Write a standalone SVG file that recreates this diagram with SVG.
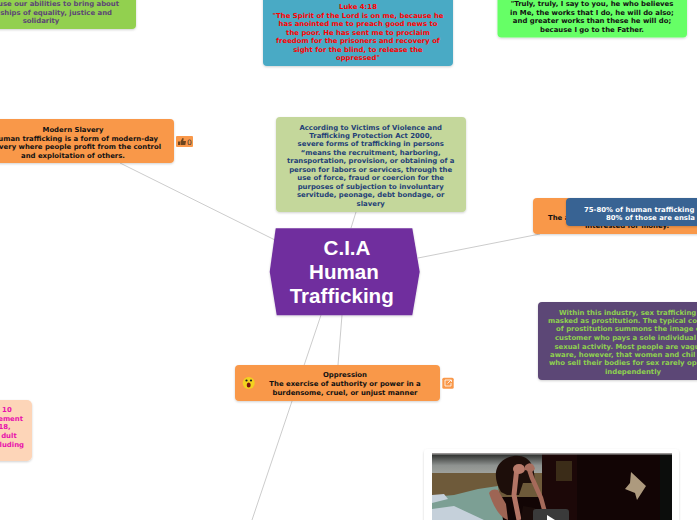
<svg xmlns="http://www.w3.org/2000/svg" width="697" height="520" viewBox="0 0 697 520">
<style>
text{font-family:"DejaVu Sans",Verdana,sans-serif;font-weight:700;font-size:6.9px;text-anchor:middle}
.s{text-anchor:start}.e{text-anchor:end}
.card{filter:url(#sh)}
.main{font-family:"Liberation Sans",Arial,sans-serif;font-size:20.6px;fill:#fff}
#connectors line{stroke:#ccc;stroke-width:1}
</style>
<defs>
<filter id="sh" x="-10%" y="-10%" width="120%" height="125%"><feDropShadow dx="0" dy="1" stdDeviation="1.2" flood-color="#000" flood-opacity=".18"/></filter>
<linearGradient id="wall" x1="0" y1="0" x2="0" y2="1"><stop offset="0" stop-color="#2a2c2a"/><stop offset=".6" stop-color="#8e9290"/><stop offset="1" stop-color="#9ea19c"/></linearGradient>
</defs>
<rect width="697" height="520" fill="#fff"/>
<g id="connectors">
<line x1="120" y1="163" x2="275" y2="240"/>
<line x1="356" y1="212" x2="351" y2="228"/>
<line x1="418" y1="258" x2="540" y2="234"/>
<line x1="342" y1="315" x2="338" y2="365"/>
<line x1="321" y1="315" x2="252" y2="520"/>
</g>
<g id="node-solidarity">
<rect class="card" x="-55" y="-40" width="191" height="69" rx="4" fill="#92d050"/>
<g fill="#5c4676">
<text class="e" x="119" y="6">use our abilities to bring about</text>
<text class="e" x="112" y="14.500">ships of equality, justice and</text>
<text x="41" y="23">solidarity</text>
</g>
</g>
<g id="node-luke">
<rect class="card" x="263" y="-40" width="190" height="106" rx="4" fill="#4aaac5"/>
<g fill="#f00">
<text x="358" y="9.300">Luke 4:18</text>
<text x="358" y="17.700">"The Spirit of the Lord is on me, because he</text>
<text x="358" y="26.300">has anointed me to preach good news to</text>
<text x="358" y="34.700">the poor. He has sent me to proclaim</text>
<text x="358" y="43.300">freedom for the prisoners and recovery of</text>
<text x="358" y="51.700">sight for the blind, to release the</text>
<text x="358" y="60.300">oppressed"</text>
</g>
</g>
<g id="node-truly">
<rect class="card" x="497.500" y="-40" width="189.500" height="77.500" rx="4" fill="#66ff66"/>
<g fill="#111">
<text x="592" y="6.300">"Truly, truly, I say to you, he who believes</text>
<text x="592" y="14.700">in Me, the works that I do, he will do also;</text>
<text x="592" y="23.300">and greater works than these he will do;</text>
<text x="592" y="31.700">because I go to the Father.</text>
</g>
</g>
<g id="node-modern-slavery">
<rect class="card" x="-28" y="119" width="202" height="44" rx="4" fill="#f9984a"/>
<g fill="#111">
<text x="73" y="132.300">Modern Slavery</text>
<text class="e" x="158" y="140.700">uman trafficking is a form of modern-day</text>
<text class="e" x="161" y="149.300">very where people profit from the control</text>
<text x="73" y="157.700">and exploitation of others.</text>
</g>
<g id="thumb-icon">
<rect x="176" y="136" width="17" height="11" rx="1" fill="#f9984a"/>
<path d="M178 141.500h2v3.500h-2zM180.500 141.500l2-3.500 1.300.5-.6 2.500h2.800l-.7 4h-4.800z" fill="#6b4520"/>
<text x="189.300" y="144.800" style="font-weight:400;font-size:7.500px;fill:#333">0</text>
</g>
</g>
<g id="node-act">
<rect class="card" x="276" y="117" width="190" height="95" rx="4" fill="#c4d79b"/>
<g fill="#1f3f77">
<text x="370.700" y="129.700">According to Victims of Violence and</text>
<text x="370.700" y="137.700">Trafficking Protection Act 2000,</text>
<text x="370.700" y="146.300">severe forms of trafficking in persons</text>
<text x="370.700" y="154.700">“means the recruitment, harboring,</text>
<text x="370.700" y="163.300">transportation, provision, or obtaining of a</text>
<text x="370.700" y="171.700">person for labors or services, through the</text>
<text x="370.700" y="180.300">use of force, fraud or coercion for the</text>
<text x="370.700" y="188.700">purposes of subjection to involuntary</text>
<text x="370.700" y="197.300">servitude, peonage, debt bondage, or</text>
<text x="370.700" y="205.700">slavery</text>
</g>
</g>
<g id="node-money">
<rect class="card" x="533" y="198" width="190" height="36" rx="4" fill="#f9984a"/>
<g fill="#111">
<text class="s" x="548" y="219.500">The a</text>
<text x="627" y="228">interested for money.</text>
</g>
</g>
<g id="node-percent">
<rect class="card" x="566" y="198" width="170" height="28" rx="4" fill="#386493"/>
<g fill="#fff">
<text class="s" x="584" y="211.500">75-80% of human trafficking</text>
<text class="s" x="606" y="220">80% of those are ensla</text>
</g>
</g>
<g id="node-industry">
<rect class="card" x="538" y="302" width="190" height="78" rx="4" fill="#5c4676"/>
<g fill="#8fd14f">
<text class="s" x="559" y="314.700">Within this industry, sex trafficking</text>
<text class="s" x="548" y="323">masked as prostitution. The typical co</text>
<text class="s" x="556" y="331.300">of prostitution summons the image o</text>
<text class="s" x="555" y="339.700">customer who pays a sole individual</text>
<text class="s" x="554.500" y="348.700">sexual activity. Most people are vagu</text>
<text class="s" x="550" y="356.700">aware, however, that women and chil</text>
<text class="s" x="549" y="365.300">who sell their bodies for sex rarely op</text>
<text x="633" y="373.700">independently</text>
</g>
</g>
<g id="node-center">
<polygon class="card" points="275.700,228.300 412.300,228.300 419.700,271.700 412.300,315.300 276.700,315.300 269.700,271.700" fill="#702f9e"/>
<text class="main" x="347" y="254.700">C.I.A</text>
<text class="main" x="344" y="279">Human</text>
<text class="main" x="341.700" y="302.800">Trafficking</text>
</g>
<g id="node-oppression">
<rect class="card" x="235" y="365" width="205" height="36" rx="4" fill="#f9984a"/>
<circle cx="248.700" cy="383" r="6" fill="#f2d21f"/>
<ellipse cx="248.700" cy="385" rx="2" ry="2.500" fill="#7a1010"/>
<circle cx="246.500" cy="380.500" r="1.100" fill="#222"/><circle cx="251" cy="380.500" r="1.100" fill="#222"/>
<g fill="#111">
<text x="345" y="377.300">Oppression</text>
<text x="345" y="386.300">The exercise of authority or power in a</text>
<text x="345" y="394.700">burdensome, cruel, or unjust manner</text>
</g>
<g id="link-icon">
<rect x="442.300" y="377.700" width="11.400" height="11" rx="1.500" fill="#f9984a"/>
<path d="M449 380h-4v6h6v-3M447.500 383.500l3.500-3.500M449 380h2.500v2" fill="none" stroke="#fff" stroke-width=".8"/>
</g>
</g>
<g id="node-statistics">
<rect class="card" x="-120" y="400" width="152" height="61" rx="5" fill="#fdd5b8"/>
<g fill="#e812ac">
<text class="e" x="11.700" y="412.300">10</text>
<text class="e" x="23" y="421">ement</text>
<text class="e" x="10.700" y="429.300">18,</text>
<text class="e" x="16.700" y="438">dult</text>
<text class="e" x="24" y="446.700">luding</text>
</g>
</g>
<g id="node-video">
<rect class="card" x="424" y="449" width="255" height="90" rx="4" fill="#fff"/>
<rect x="432" y="453.500" width="240" height="67" fill="#120505"/>
<rect x="432" y="454" width="110" height="19" fill="url(#wall)"/>
<rect x="432" y="473" width="110" height="24" fill="#6e5a3a"/>
<path d="M432 497l22-2 24-6 20-3 3 20 2 14h-71z" fill="#7c9f94"/>
<path d="M432 495l12-1 4 5-16 4zM432 509l22-3 30 14H432z" fill="#c5d0da"/>
<rect x="542" y="454" width="35" height="66" fill="#1c0808"/>
<rect x="556" y="461" width="16" height="20" fill="#3b2c18"/>
<path d="M631 472l15 14-9 14-2-7-10-4 5-6z" fill="#ad9a7e"/>
<rect x="660" y="454" width="12" height="66" fill="#0c0d0c"/>
<path d="M501 492c-7-12-8-26 4-33 10-6 23-4 27 6 3 7 2 12 3 18h-12l-4 12h-12z" fill="#1d0e0a"/>
<path d="M508 520c-10-3-16-18-19-27 2-4 6-4 9-3l8 14z" fill="#9e6554"/>
<path d="M519 520l-5-25 3-28" fill="none" stroke="#b37566" stroke-width="5"/>
<path d="M547 520l-6-22-9-20-4-12" fill="none" stroke="#a56a5a" stroke-width="4.500"/>
<ellipse cx="519" cy="469" rx="6" ry="5" fill="#b87a6a"/>
<path d="M525 466c4-5 9-3 10 3l-3 3-7-2z" fill="#a86e5e"/>
<path d="M521 520l2-14 12 2 4 12z" fill="#1a0c0a"/>
<rect x="533" y="509" width="36" height="20" rx="3" fill="#3a3a3a"/>
<path d="M547 515l8 5h-8z" fill="#fff"/>
<rect x="432" y="453.500" width="240" height="1" fill="#aaa"/>
</g>
</svg>
